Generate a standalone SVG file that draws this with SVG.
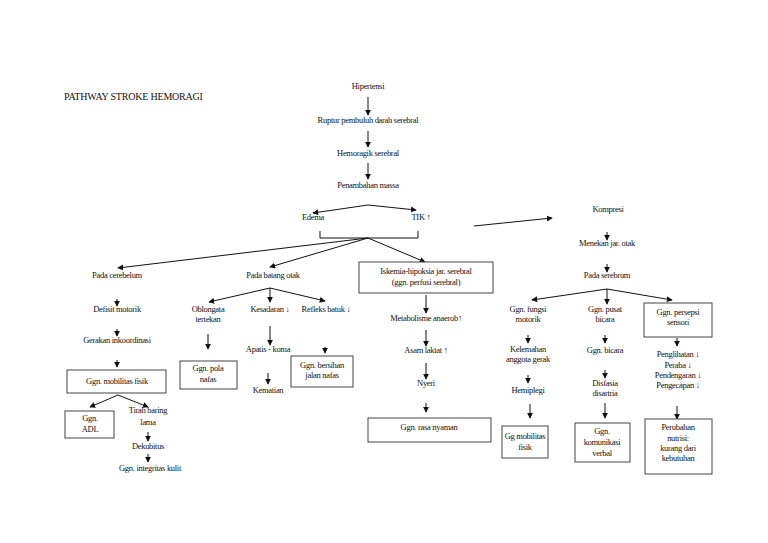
<svg xmlns="http://www.w3.org/2000/svg" width="768" height="543" viewBox="0 0 768 543">
<style>
text{font-family:"Liberation Serif",serif;font-size:8.5px;text-anchor:middle;fill:#111;letter-spacing:-0.3px}
.t{font-size:10px;text-anchor:start;letter-spacing:-0.2px}
rect{fill:#fff;stroke:#444;stroke-width:1}
.c line,.c path{stroke:#111;stroke-width:1;fill:none}
.a{marker-end:url(#ah)}
</style>
<defs><marker id="ah" viewBox="0 0 8 8" refX="7" refY="4" markerWidth="6" markerHeight="6" orient="auto" markerUnits="userSpaceOnUse"><path d="M0,0L8,4L0,8z" fill="#111"/></marker></defs>
<rect width="768" height="543" style="stroke:none"/>
<text class="t" x="64" y="100">PATHWAY STROKE HEMORAGI</text>
<g class="c">
<line class="a" x1="368" y1="97" x2="368" y2="115"/>
<line class="a" x1="368" y1="131" x2="368" y2="147"/>
<line class="a" x1="368" y1="163" x2="368" y2="179"/>
<line class="a" x1="368" y1="205" x2="313" y2="213"/>
<line class="a" x1="368" y1="205" x2="416" y2="210"/>
<path d="M320,231V238H418V231"/>
<line class="a" x1="368" y1="238" x2="118" y2="268"/>
<line class="a" x1="368" y1="238" x2="270" y2="267"/>
<line class="a" x1="368" y1="238" x2="425" y2="262"/>
<line class="a" x1="474" y1="226" x2="552" y2="218"/>
<line class="a" x1="117" y1="299" x2="117" y2="306"/>
<line class="a" x1="117" y1="329" x2="117" y2="336"/>
<line class="a" x1="117" y1="360" x2="117" y2="367"/>
<line class="a" x1="118" y1="395" x2="90" y2="407"/>
<line class="a" x1="118" y1="395" x2="148" y2="407"/>
<line class="a" x1="148" y1="432" x2="148" y2="441"/>
<line class="a" x1="148" y1="454" x2="148" y2="462"/>
<line class="a" x1="270" y1="288" x2="209" y2="302"/>
<line class="a" x1="270" y1="288" x2="270" y2="302"/>
<line class="a" x1="270" y1="288" x2="325" y2="301"/>
<line class="a" x1="208" y1="334" x2="208" y2="349"/>
<line class="a" x1="270" y1="326" x2="270" y2="345"/>
<line class="a" x1="268" y1="373" x2="268" y2="384"/>
<line class="a" x1="325" y1="347" x2="325" y2="353"/>
<line class="a" x1="426" y1="295" x2="426" y2="313"/>
<line class="a" x1="426" y1="330" x2="426" y2="346"/>
<line class="a" x1="426" y1="363" x2="426" y2="379"/>
<line class="a" x1="426" y1="403" x2="426" y2="412"/>
<line class="a" x1="607" y1="232" x2="607" y2="240"/>
<line class="a" x1="607" y1="264" x2="607" y2="272"/>
<line class="a" x1="607" y1="289" x2="532" y2="300"/>
<line class="a" x1="607" y1="289" x2="607" y2="304"/>
<line class="a" x1="607" y1="289" x2="672" y2="300"/>
<line class="a" x1="528" y1="335" x2="528" y2="343"/>
<line class="a" x1="605" y1="335" x2="605" y2="343"/>
<line class="a" x1="677" y1="338" x2="677" y2="346"/>
<line class="a" x1="528" y1="375" x2="528" y2="383"/>
<line class="a" x1="605" y1="370" x2="605" y2="378"/>
<line class="a" x1="530" y1="404" x2="530" y2="418"/>
<line class="a" x1="605" y1="403" x2="605" y2="418"/>
<line class="a" x1="677" y1="406" x2="677" y2="419"/>
</g>
<g id="n-hipertensi"><text x="368" y="89">Hipertensi</text></g>
<g id="n-ruptur"><text x="368" y="123">Ruptur pembuluh darah serebral</text></g>
<g id="n-hemoragik"><text x="368" y="156">Hemoragik serebral</text></g>
<g id="n-penambahan"><text x="368" y="188">Penambahan massa</text></g>
<g id="n-edema"><text x="313" y="220">Edema</text></g>
<g id="n-tik"><text x="421" y="220">TIK ↑</text></g>
<g id="n-cerebelum"><text x="117" y="278">Pada cerebelum</text></g>
<g id="n-defisit"><text x="117" y="312">Defisit motorik</text></g>
<g id="n-gerakan"><text x="117" y="343">Gerakan inkoordinasi</text></g>
<g id="n-mobfisik"><rect x="67" y="370" width="99" height="23"/><text x="117" y="384">Ggn. mobilitas fisik</text></g>
<g id="n-adl"><rect x="65" y="411" width="49" height="27"/><text x="90" y="421">Ggn.</text><text x="90" y="432">ADL</text></g>
<g id="n-tirah"><text x="148" y="413">Tirah baring</text><text x="148" y="425">lama</text></g>
<g id="n-dekubitus"><text x="148" y="449">Dekubitus</text></g>
<g id="n-integritas"><text x="150" y="471">Ggn. integritas kulit</text></g>
<g id="n-batang"><text x="273" y="278">Pada batang otak</text></g>
<g id="n-oblongata"><text x="208" y="312">Oblongata</text><text x="208" y="322">tertekan</text></g>
<g id="n-kesadaran"><text x="270" y="312">Kesadaran ↓</text></g>
<g id="n-refleks"><text x="326" y="312">Refleks batuk ↓</text></g>
<g id="n-pola"><rect x="180" y="361" width="57" height="28"/><text x="208" y="371">Ggn. pola</text><text x="208" y="382">nafas</text></g>
<g id="n-apatis"><text x="268" y="352">Apatis - koma</text></g>
<g id="n-kematian"><text x="268" y="393">Kematian</text></g>
<g id="n-bersihan"><rect x="291" y="356" width="62" height="31"/><text x="322" y="368">Ggn. bersihan</text><text x="322" y="378">jalan nafas</text></g>
<g id="n-iskemia"><rect x="359" y="262" width="134" height="31"/><text x="426" y="274">Iskemia-hipoksia jar. serebral</text><text x="426" y="285">(ggn. perfusi serebral)</text></g>
<g id="n-metabolisme"><text x="426" y="321">Metabolisme anaerob↑</text></g>
<g id="n-asam"><text x="426" y="353">Asam laktat ↑</text></g>
<g id="n-nyeri"><text x="426" y="386">Nyeri</text></g>
<g id="n-nyaman"><rect x="368" y="418" width="123" height="24"/><text x="429" y="430">Ggn. rasa nyaman</text></g>
<g id="n-kompresi"><text x="608" y="212">Kompresi</text></g>
<g id="n-menekan"><text x="607" y="246">Menekan jar. otak</text></g>
<g id="n-serebrum"><text x="607" y="278">Pada serebrum</text></g>
<g id="n-fungsi"><text x="528" y="312">Ggn. fungsi</text><text x="528" y="322">motorik</text></g>
<g id="n-pusat"><text x="605" y="312">Ggn. pusat</text><text x="605" y="322">bicara</text></g>
<g id="n-persepsi"><rect x="644" y="303" width="68" height="34"/><text x="678" y="315">Ggn. persepsi</text><text x="678" y="325">sensori</text></g>
<g id="n-kelemahan"><text x="528" y="352">Kelemahan</text><text x="528" y="362">anggota gerak</text></g>
<g id="n-bicara"><text x="605" y="353">Ggn. bicara</text></g>
<g id="n-indra"><text x="678" y="357">Penglihatan ↓</text><text x="678" y="368">Peraba ↓</text><text x="678" y="378">Pendengaran ↓</text><text x="678" y="388">Pengecapan ↓</text></g>
<g id="n-hemiplegi"><text x="528" y="393">Hemiplegi</text></g>
<g id="n-disfasia"><text x="605" y="386">Disfasia</text><text x="605" y="396">disartria</text></g>
<g id="n-mobfisik2"><rect x="502" y="426" width="46" height="32"/><text x="525" y="439">Gg mobilitas</text><text x="525" y="450">fisik</text></g>
<g id="n-komunikasi"><rect x="575" y="423" width="55" height="39"/><text x="602" y="434">Ggn.</text><text x="602" y="445">komunikasi</text><text x="602" y="456">verbal</text></g>
<g id="n-nutrisi"><rect x="645" y="419" width="67" height="55"/><text x="678" y="430">Perubahan</text><text x="678" y="441">nutrisi:</text><text x="678" y="451">kurang dari</text><text x="678" y="461">kebutuhan</text></g>
</svg>
